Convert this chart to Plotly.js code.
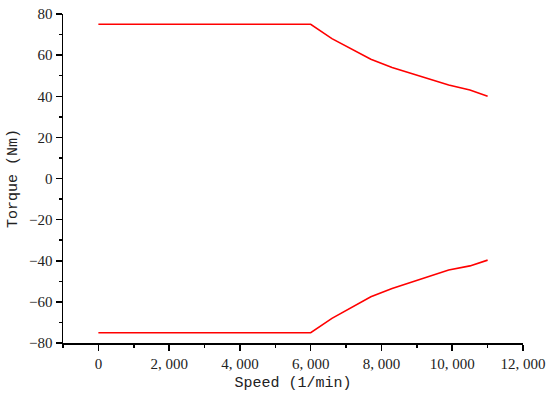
<!DOCTYPE html>
<html>
<head>
<meta charset="utf-8">
<script src="https://cdn.plot.ly/plotly-3.0.1.min.js"></script>
<style>html,body{margin:0;padding:0;background:#fff;}#chart{width:550px;height:395px;}</style>
</head>
<body>
<div id="chart"></div>
<script>
var speedUpper = [0, 6000, 6600, 7700, 8300, 9900, 10500, 11000];
var torqueUpper = [75, 75, 68, 58, 54, 45.5, 43, 40];
var speedLower = [0, 6000, 6600, 7700, 8300, 9900, 10500, 11000];
var torqueLower = [-75, -75, -68, -57.5, -53.5, -44.5, -42.5, -39.7];
var xTickVals = [0, 2000, 4000, 6000, 8000, 10000, 12000];
var xTickText = ["0", "2, 000", "4, 000", "6, 000", "8, 000", "10, 000", "12, 000"];
var yTickVals = [-80, -60, -40, -20, 0, 20, 40, 60, 80];
var yTickText = ["\u221280", "\u221260", "\u221240", "\u221220", "0", "20", "40", "60", "80"];

var traces = [
  {x: speedUpper, y: torqueUpper, mode: 'lines', line: {color: '#ff0000', width: 1.6}, hoverinfo: 'skip'},
  {x: speedLower, y: torqueLower, mode: 'lines', line: {color: '#ff0000', width: 1.6}, hoverinfo: 'skip'}
];
var layout = {
  width: 550, height: 395,
  margin: {l: 63, r: 27, t: 14, b: 52},
  showlegend: false,
  font: {family: '"Liberation Serif", "Times New Roman", serif', size: 15, color: '#222'},
  paper_bgcolor: '#fff', plot_bgcolor: '#fff',
  xaxis: {
    range: [-1000, 12000], showgrid: false, zeroline: false,
    showline: true, linecolor: '#000', linewidth: 1.5,
    ticks: 'outside', ticklen: 6, tickwidth: 1.5, tickcolor: '#000',
    tickmode: 'array', tickvals: xTickVals, ticktext: xTickText,
    tickfont: {family: '"Liberation Serif", serif', size: 15, color: '#222'},
    minor: {ticks: 'outside', dtick: 1000, tick0: 1000, ticklen: 3, tickwidth: 1.5, tickcolor: '#000', showgrid: false},
    title: {text: 'Speed (1/min)', font: {family: '"Liberation Mono", monospace', size: 15, color: '#222'}, standoff: 6}
  },
  yaxis: {
    range: [-80, 80], showgrid: false, zeroline: false,
    showline: true, linecolor: '#000', linewidth: 1.5,
    ticks: 'outside', ticklen: 6, tickwidth: 1.5, tickcolor: '#000',
    tickmode: 'array', tickvals: yTickVals, ticktext: yTickText,
    tickfont: {family: '"Liberation Serif", serif', size: 15, color: '#222'},
    minor: {ticks: 'outside', dtick: 10, tick0: -70, ticklen: 3, tickwidth: 1.5, tickcolor: '#000', showgrid: false},
    title: {text: 'Torque (Nm)', font: {family: '"Liberation Mono", monospace', size: 15, color: '#222'}, standoff: 8}
  }
};
Plotly.newPlot('chart', traces, layout, {staticPlot: true, displayModeBar: false});
</script>
</body>
</html>
